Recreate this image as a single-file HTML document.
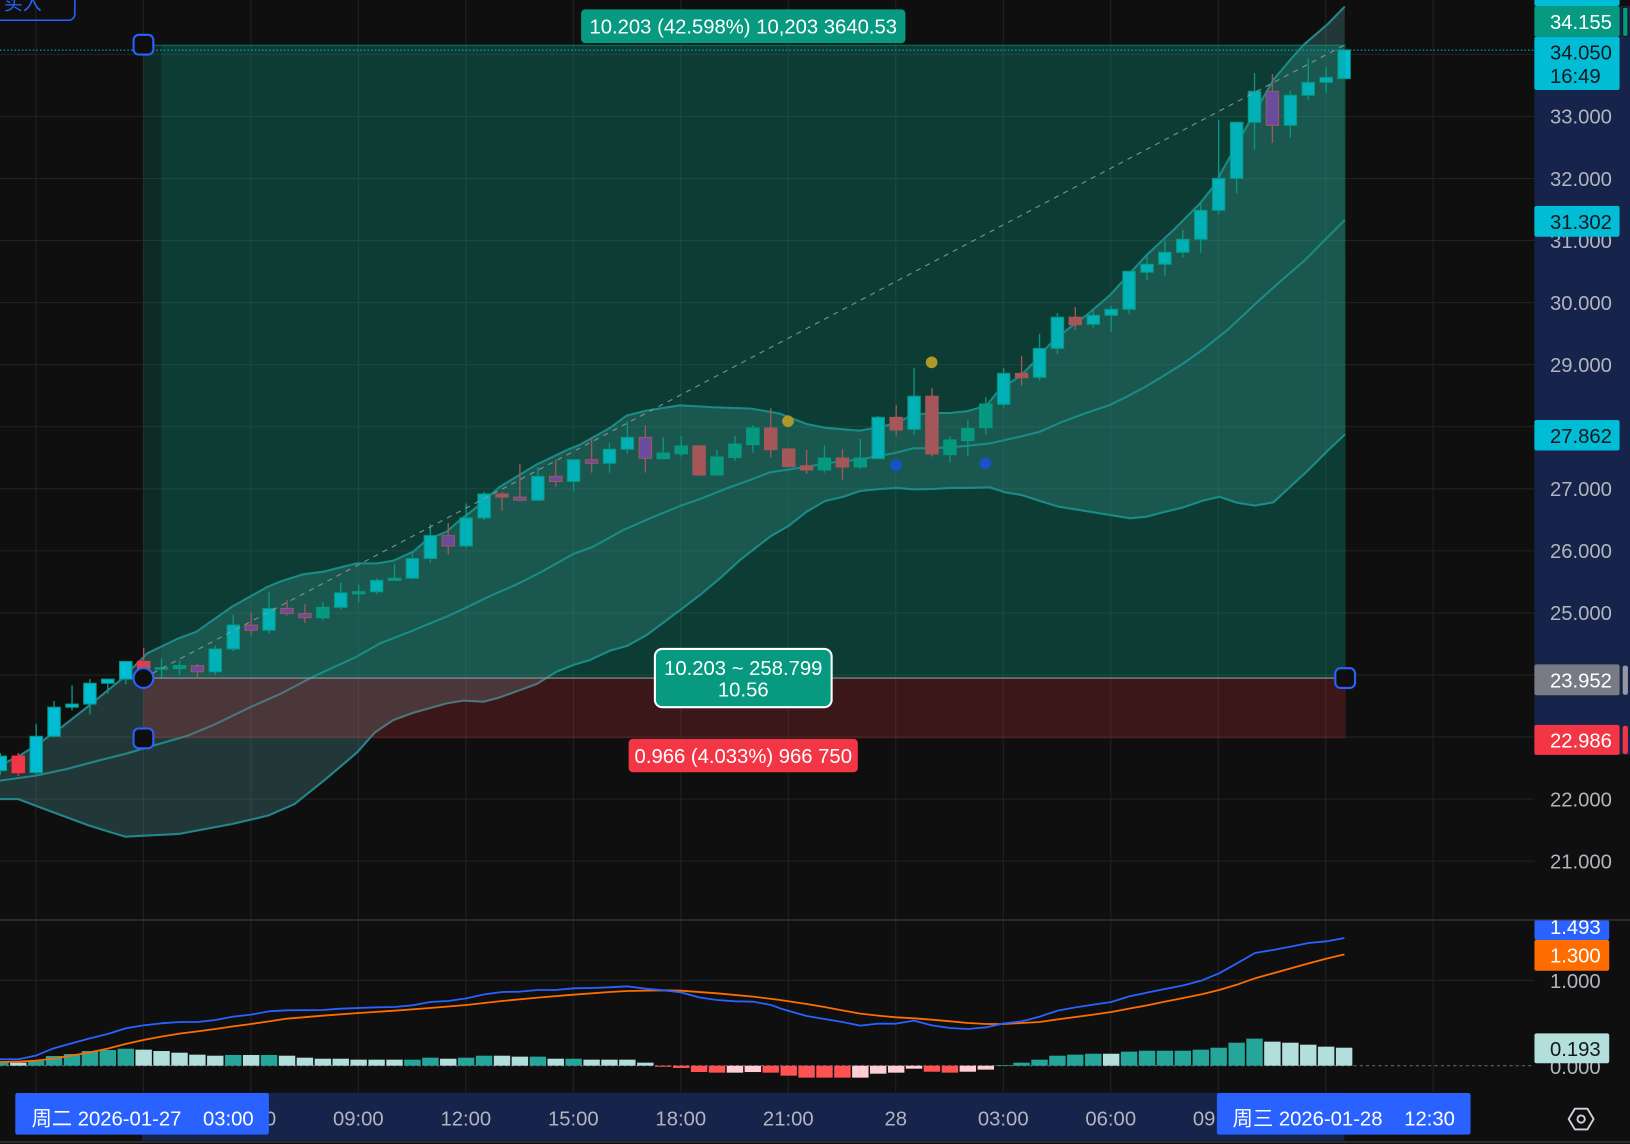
<!DOCTYPE html>
<html><head><meta charset="utf-8"><style>
html,body{margin:0;padding:0;background:#0f0f0f;overflow:hidden;width:1630px;height:1144px}
svg{display:block}
text{font-family:"Liberation Sans","Noto Sans CJK SC",sans-serif}
g.c rect{fill:#00bcd4;stroke:#089981;stroke-width:1}
g.c path{stroke:#089981}
g.p rect{fill:#9c27b0;stroke:#f23645;stroke-width:1}
g.p path{stroke:#f23645}
g.r rect{fill:#f23645;stroke:#f23645;stroke-width:1}
g.r path{stroke:#f23645}
g.t rect{fill:#089981;stroke:#089981;stroke-width:1}
g.t path{stroke:#089981}
.cd path{stroke-width:1.3;fill:none}
.hT{fill:#26a69a}.hL{fill:#b2dfdb}.hR{fill:#ff5252}.hP{fill:#ffcdd2}
.ax{fill:#b2b5be;font-size:19.5px}
.tl{fill:#b2b5be;font-size:19.5px;text-anchor:middle}
</style></head><body>
<svg width="1630" height="1144" viewBox="0 0 1568 1100" preserveAspectRatio="none" xmlns="http://www.w3.org/2000/svg">
<defs>
<clipPath id="cpMain"><rect x="0" y="0" width="1476" height="884"/></clipPath>
<clipPath id="cpMacd"><rect x="0" y="885" width="1476" height="165"/></clipPath>
<clipPath id="cpMacdAx"><rect x="1476" y="885" width="92" height="165"/></clipPath>
</defs>
<rect x="0" y="0" width="1568" height="1100" fill="#0f0f0f"/>

<!-- grid main -->
<g stroke="#232323" stroke-width="1">
<path d="M0 52.3H1476M0 112H1476M0 171.7H1476M0 231.3H1476M0 291H1476M0 350.7H1476M0 410.3H1476M0 470H1476M0 529.7H1476M0 589.4H1476M0 649H1476M0 708.7H1476M0 768.4H1476M0 828H1476"/>
<path d="M34.5 0V884M137.9 0V884M241.3 0V884M344.7 0V884M448.1 0V884M551.5 0V884M654.9 0V884M758.3 0V884M861.7 0V884M965.1 0V884M1068.5 0V884M1171.9 0V884M1275.3 0V884M1378.7 0V884"/>
<path d="M34.5 885V1050M137.9 885V1050M241.3 885V1050M344.7 885V1050M448.1 885V1050M551.5 885V1050M654.9 885V1050M758.3 885V1050M861.7 885V1050M965.1 885V1050M1068.5 885V1050M1171.9 885V1050M1275.3 885V1050M1378.7 885V1050"/>
<path d="M0 942.6H1476"/>
</g>

<g clip-path="url(#cpMain)">
<!-- Bollinger fill -->
<polygon fill="rgba(91,179,179,0.25)" points="0,736 20,726 40,713 55.8,701.9 80,683 116,653.8 141.7,628.2 171.8,613.8 189,607.4 223.3,583.3 257.7,564.1 269.4,559.3 291.8,552.2 311,549.7 343.1,541.7 362.4,541.7 378.4,539.1 397.6,530.4 410.5,519.2 429.7,511.2 442.5,500 455.2,490.4 481,468 515.4,447.1 545.4,432.7 558,427.6 586.8,411.5 602.8,399.6 622,394.8 654,389.7 686.1,391.6 723,392.9 750.2,397.7 775.9,407.7 795.1,411.5 827.1,414.1 846.4,410.6 862.4,406.7 878.4,398.7 897.6,397.1 913.7,397.1 929.7,395.5 948.9,390.1 962,374 981,362 994,349 1010,331 1026.2,317.3 1045.4,302.9 1067.9,283.7 1083.9,266 1103.1,245.2 1128.8,221.2 1154.4,195.5 1167.2,179.5 1183.3,150.6 1199.3,121.8 1224.9,76.9 1241,57.7 1253.8,43.3 1276.3,24 1293.6,6.4 1293.9,417.6 1276.3,434.3 1257,453.5 1224.9,483 1207.3,486.2 1189.7,483.3 1173,477.6 1156,481.7 1138.4,487.8 1119.1,492.6 1103.1,496.8 1087.1,498.4 1067.8,495.2 1048.6,492 1018.1,487.2 1000.5,481.7 982.9,476 966.8,473.4 952.4,468.6 929.7,469.2 913.7,469.2 897.6,470.2 878.4,470.5 862.4,469.2 846.4,470.2 827.3,472.1 811.3,477.6 793.6,481.7 776,492 758.4,505.8 740.7,516 711.9,538.5 692.6,556.1 673.4,572.1 657.4,584.3 641.4,596.2 622.1,610.6 602.9,621.2 586.8,625.6 567.6,634.6 551.5,639.4 535.5,645.8 516.3,657.7 500.2,663.5 481,670.5 465,674.7 445.7,673.7 429.7,676.3 397.6,685.3 378.4,692.3 360.7,704.2 343.6,723.4 313.5,749 283.4,773.1 257.7,784.3 223.3,792.3 171.8,801.9 120.2,804.5 85.9,793.9 51.5,781.1 17.2,768.3 0,768.3"/>
<g fill="none" stroke="#23868c" stroke-width="2" stroke-linejoin="round">
<polyline points="0,736 20,726 40,713 55.8,701.9 80,683 116,653.8 141.7,628.2 171.8,613.8 189,607.4 223.3,583.3 257.7,564.1 269.4,559.3 291.8,552.2 311,549.7 343.1,541.7 362.4,541.7 378.4,539.1 397.6,530.4 410.5,519.2 429.7,511.2 442.5,500 455.2,490.4 481,468 515.4,447.1 545.4,432.7 558,427.6 586.8,411.5 602.8,399.6 622,394.8 654,389.7 686.1,391.6 723,392.9 750.2,397.7 775.9,407.7 795.1,411.5 827.1,414.1 846.4,410.6 862.4,406.7 878.4,398.7 897.6,397.1 913.7,397.1 929.7,395.5 948.9,390.1 962,374 981,362 994,349 1010,331 1026.2,317.3 1045.4,302.9 1067.9,283.7 1083.9,266 1103.1,245.2 1128.8,221.2 1154.4,195.5 1167.2,179.5 1183.3,150.6 1199.3,121.8 1224.9,76.9 1241,57.7 1253.8,43.3 1276.3,24 1293.6,6.4"/>
<polyline points="0,750.6 34.4,745.8 64.4,739.4 94.5,731.4 120.2,725 141.7,718.6 180.4,707.4 206.1,696.8 240.5,680.1 269.4,667.3 301.4,650.6 343.1,631.4 365.6,618.6 394.4,607.4 413.7,599.4 429.7,593 449,584 471.4,573.1 497,561.9 519.5,550.6 551.5,532.7 570.8,525.6 599.6,509.6 625.3,498.4 654.2,486.5 673.4,479.8 699.1,469.6 721.5,461.5 740.5,454.2 766.2,450.3 801.4,444.6 827.1,441.7 859.2,435.9 878.4,431.1 897.6,431.1 929.7,428.8 952.4,426.3 981.2,419.9 1000.5,415.1 1019.7,406.4 1048.6,395.8 1067.8,389.4 1083.9,381.4 1103.1,371.2 1119.1,361.5 1138.4,349.4 1154.4,338.1 1180,318 1210,290 1230,272 1255.4,250 1293.6,211.5"/>
<polyline points="0,768.3 17.2,768.3 51.5,781.1 85.9,793.9 120.2,804.5 171.8,801.9 223.3,792.3 257.7,784.3 283.4,773.1 313.5,749 343.6,723.4 360.7,704.2 378.4,692.3 397.6,685.3 429.7,676.3 445.7,673.7 465,674.7 481,670.5 500.2,663.5 516.3,657.7 535.5,645.8 551.5,639.4 567.6,634.6 586.8,625.6 602.9,621.2 622.1,610.6 641.4,596.2 657.4,584.3 673.4,572.1 692.6,556.1 711.9,538.5 740.7,516 758.4,505.8 776,492 793.6,481.7 811.3,477.6 827.3,472.1 846.4,470.2 862.4,469.2 878.4,470.5 897.6,470.2 913.7,469.2 929.7,469.2 952.4,468.6 966.8,473.4 982.9,476 1000.5,481.7 1018.1,487.2 1048.6,492 1067.8,495.2 1087.1,498.4 1103.1,496.8 1119.1,492.6 1138.4,487.8 1156,481.7 1173,477.6 1189.7,483.3 1207.3,486.2 1224.9,483 1257,453.5 1276.3,434.3 1293.9,417.6"/>
</g>

<!-- candles -->
<g class="cd">
<g class="c"><path d="M0.3 724V745"/><rect x="-5.7" y="727" width="12" height="14"/></g>
<g class="r"><path d="M17.6 724V746"/><rect x="11.6" y="727" width="12" height="16"/></g>
<g class="c"><path d="M34.8 696V745"/><rect x="28.8" y="708" width="12" height="35"/></g>
<g class="c"><path d="M52 674V709"/><rect x="46" y="680" width="12" height="28"/></g>
<g class="c"><path d="M69.3 659V683"/><rect x="63.3" y="677" width="12" height="3"/></g>
<g class="c"><path d="M86.5 653V687"/><rect x="80.5" y="657" width="12" height="20"/></g>
<g class="c"><path d="M103.7 653V667"/><rect x="97.7" y="653" width="12" height="4"/></g>
<g class="c"><path d="M121 636V658"/><rect x="115" y="636" width="12" height="17"/></g>
<g class="r"><path d="M138.2 623V644"/><rect x="132.2" y="636" width="12" height="7"/></g>
<g class="t"><path d="M155.4 633V652"/><rect x="149.4" y="642" width="12" height="1.5"/></g>
<g class="t"><path d="M172.7 635V649"/><rect x="166.7" y="640" width="12" height="3"/></g>
<g class="p"><path d="M189.9 638V651"/><rect x="183.9" y="640" width="12" height="6"/></g>
<g class="c"><path d="M207.1 621V649"/><rect x="201.1" y="624" width="12" height="22"/></g>
<g class="c"><path d="M224.4 591V626"/><rect x="218.4" y="601" width="12" height="23"/></g>
<g class="p"><path d="M241.6 589V611"/><rect x="235.6" y="601" width="12" height="5"/></g>
<g class="c"><path d="M258.8 569V609"/><rect x="252.8" y="585" width="12" height="21"/></g>
<g class="p"><path d="M276.1 577V592"/><rect x="270.1" y="585" width="12" height="5"/></g>
<g class="p"><path d="M293.3 581V599"/><rect x="287.3" y="590" width="12" height="4"/></g>
<g class="t"><path d="M310.6 579V596"/><rect x="304.6" y="584" width="12" height="10"/></g>
<g class="c"><path d="M327.8 560V586"/><rect x="321.8" y="570" width="12" height="14"/></g>
<g class="t"><path d="M345 562V579"/><rect x="339" y="569" width="12" height="2"/></g>
<g class="c"><path d="M362.3 556V571"/><rect x="356.3" y="558" width="12" height="11"/></g>
<g class="t"><path d="M379.5 542V558"/><rect x="373.5" y="556" width="12" height="2"/></g>
<g class="c"><path d="M396.7 532V557"/><rect x="390.7" y="537" width="12" height="19"/></g>
<g class="c"><path d="M414 504V541"/><rect x="408" y="515" width="12" height="22"/></g>
<g class="p"><path d="M431.2 503V533"/><rect x="425.2" y="515" width="12" height="10"/></g>
<g class="c"><path d="M448.4 484V527"/><rect x="442.4" y="498" width="12" height="27"/></g>
<g class="c"><path d="M465.7 473V500"/><rect x="459.7" y="475" width="12" height="23"/></g>
<g class="r"><path d="M482.9 473V491"/><rect x="476.9" y="475" width="12" height="3"/></g>
<g class="p"><path d="M500.1 446V482"/><rect x="494.1" y="478" width="12" height="3"/></g>
<g class="c"><path d="M517.4 449V482"/><rect x="511.4" y="458" width="12" height="23"/></g>
<g class="p"><path d="M534.6 442V468"/><rect x="528.6" y="458" width="12" height="5"/></g>
<g class="c"><path d="M551.8 442V472"/><rect x="545.8" y="442" width="12" height="21"/></g>
<g class="p"><path d="M569.1 422V454.5"/><rect x="563.1" y="442" width="12" height="3.5"/></g>
<g class="c"><path d="M586.3 426V454.5"/><rect x="580.3" y="432" width="12" height="13.5"/></g>
<g class="c"><path d="M603.5 405V436"/><rect x="597.5" y="420.5" width="12" height="11.5"/></g>
<g class="p"><path d="M620.8 408.7V454.5"/><rect x="614.8" y="420.5" width="12" height="20.2"/></g>
<g class="t"><path d="M638 420.5V441.7"/><rect x="632" y="435.6" width="12" height="5.4"/></g>
<g class="t"><path d="M655.3 419.2V439"/><rect x="649.3" y="428.8" width="12" height="7.5"/></g>
<g class="r"><path d="M672.5 427.9V457.7"/><rect x="666.5" y="428.8" width="12" height="27.9"/></g>
<g class="t"><path d="M689.7 432.7V456.7"/><rect x="683.7" y="439.4" width="12" height="17.3"/></g>
<g class="t"><path d="M707 419V443"/><rect x="701" y="427" width="12" height="13"/></g>
<g class="t"><path d="M724.2 408.7V435.3"/><rect x="718.2" y="411.5" width="12" height="16.1"/></g>
<g class="r"><path d="M741.4 392.6V440"/><rect x="735.4" y="411.5" width="12" height="20.9"/></g>
<g class="r"><path d="M758.7 430.5V449"/><rect x="752.7" y="431.7" width="12" height="17"/></g>
<g class="r"><path d="M775.9 432.7V455.8"/><rect x="769.9" y="447.8" width="12" height="4.1"/></g>
<g class="t"><path d="M793.1 427.9V454.5"/><rect x="787.1" y="440.4" width="12" height="11.5"/></g>
<g class="r"><path d="M810.4 431.7V461.5"/><rect x="804.4" y="440.4" width="12" height="8.6"/></g>
<g class="t"><path d="M827.6 422V451"/><rect x="821.6" y="440.4" width="12" height="8.6"/></g>
<g class="c"><path d="M844.8 400V441"/><rect x="838.8" y="401.3" width="12" height="39.7"/></g>
<g class="r"><path d="M862.1 389.4V419.2"/><rect x="856.1" y="401.3" width="12" height="12.2"/></g>
<g class="c"><path d="M879.3 353.8V418.3"/><rect x="873.3" y="381" width="12" height="31.8"/></g>
<g class="r"><path d="M896.5 373V439"/><rect x="890.5" y="381" width="12" height="55.5"/></g>
<g class="t"><path d="M913.8 419.2V444.9"/><rect x="907.8" y="423" width="12" height="14.2"/></g>
<g class="t"><path d="M931 403.8V438.5"/><rect x="925" y="411.9" width="12" height="11.8"/></g>
<g class="t"><path d="M948.3 382V418"/><rect x="942.3" y="388.5" width="12" height="22.7"/></g>
<g class="c"><path d="M965.5 354V392"/><rect x="959.5" y="359" width="12" height="29.8"/></g>
<g class="r"><path d="M982.7 342.3V370.8"/><rect x="976.7" y="359" width="12" height="4.2"/></g>
<g class="c"><path d="M1000 321V366"/><rect x="994" y="335" width="12" height="27.8"/></g>
<g class="c"><path d="M1017.2 301V340.4"/><rect x="1011.2" y="305" width="12" height="30"/></g>
<g class="r"><path d="M1034.4 295.2V317"/><rect x="1028.4" y="305" width="12" height="7.2"/></g>
<g class="c"><path d="M1051.7 298V315.1"/><rect x="1045.7" y="303.2" width="12" height="8.6"/></g>
<g class="c"><path d="M1068.9 294.2V319"/><rect x="1062.9" y="297.4" width="12" height="5.8"/></g>
<g class="c"><path d="M1086.1 260.9V302"/><rect x="1080.1" y="260.9" width="12" height="36.5"/></g>
<g class="c"><path d="M1103.4 245.2V269.2"/><rect x="1097.4" y="254.1" width="12" height="7.7"/></g>
<g class="c"><path d="M1120.6 231.7V265.1"/><rect x="1114.6" y="242.6" width="12" height="11.5"/></g>
<g class="c"><path d="M1137.8 221V247.8"/><rect x="1131.8" y="230.1" width="12" height="12.5"/></g>
<g class="c"><path d="M1155.1 194V243"/><rect x="1149.1" y="202.2" width="12" height="27.9"/></g>
<g class="c"><path d="M1172.3 115.4V206"/><rect x="1166.3" y="171.5" width="12" height="30.7"/></g>
<g class="c"><path d="M1189.6 117.6V186.2"/><rect x="1183.6" y="117.6" width="12" height="53.9"/></g>
<g class="c"><path d="M1206.8 70.2V143.9"/><rect x="1200.8" y="87.8" width="12" height="29.8"/></g>
<g class="p"><path d="M1224 71.2V137.2"/><rect x="1218" y="87.8" width="12" height="32.7"/></g>
<g class="c"><path d="M1241.3 87.2V132.4"/><rect x="1235.3" y="91.6" width="12" height="28.9"/></g>
<g class="c"><path d="M1258.5 56.1V95.8"/><rect x="1252.5" y="79.2" width="12" height="12.4"/></g>
<g class="c"><path d="M1275.7 64.7V89.1"/><rect x="1269.7" y="74.4" width="12" height="4.8"/></g>
<g class="c"><path d="M1293 48.1V75.6"/><rect x="1287" y="48.1" width="12" height="27.5"/></g>
</g>

<!-- signal dots -->
<circle cx="758" cy="405" r="5.6" fill="#ff9800"/>
<circle cx="896.2" cy="348.4" r="5.6" fill="#ff9800"/>
<circle cx="862" cy="447.4" r="5.6" fill="#2030f0"/>
<circle cx="948" cy="445.5" r="5.6" fill="#2030f0"/>

<!-- position tool overlays -->
<rect x="137.8" y="43" width="1156.7" height="609" fill="rgba(8,153,129,0.2)"/>
<rect x="155" y="43" width="1139.5" height="609" fill="rgba(8,153,129,0.165)"/>
<rect x="137.8" y="652" width="1156.7" height="58" fill="rgba(242,54,69,0.2)"/>
<path d="M137.8 43.5H1294.5" stroke="rgba(8,153,129,0.6)" stroke-width="1"/>

<!-- current price dotted line -->
<path d="M0 48.2H1476" stroke="#00bcd4" stroke-width="1" stroke-dasharray="1.5 2"/>
<!-- entry line -->
<path d="M138 652H1294.5" stroke="#9598a1" stroke-width="1"/>
<!-- diagonal dashed -->
<path d="M138 652L1294 43" stroke="#9598a1" stroke-width="1.1" stroke-dasharray="5 5" opacity="0.85"/>

<!-- handles -->
<g fill="#0f0f0f" stroke="#2962ff" stroke-width="2">
<rect x="128.5" y="33.5" width="19" height="19" rx="5"/>
<rect x="128.5" y="700.5" width="19" height="19" rx="5"/>
<rect x="1284.5" y="642.5" width="19" height="19" rx="5"/>
<circle cx="138" cy="652" r="9.5"/>
</g>

<!-- labels -->
<rect x="559" y="9" width="312" height="32.5" rx="4" fill="#089981"/>
<text x="715" y="32" fill="#ffffff" font-size="19.5" text-anchor="middle">10.203 (42.598%) 10,203 3640.53</text>

<rect x="630" y="624" width="170" height="56" rx="7" fill="#089981" stroke="#ffffff" stroke-width="2"/>
<text x="715" y="649" fill="#ffffff" font-size="19.5" text-anchor="middle">10.203 ~ 258.799</text>
<text x="715" y="669.5" fill="#ffffff" font-size="19.5" text-anchor="middle">10.56</text>

<rect x="604.7" y="710.5" width="220.5" height="32" rx="4" fill="#f23645"/>
<text x="715" y="733.5" fill="#ffffff" font-size="19.5" text-anchor="middle">0.966 (4.033%) 966 750</text>

<!-- buy label -->
<rect x="-10" y="-12" width="82" height="31.5" rx="6" fill="none" stroke="#2962ff" stroke-width="1.5"/>
<text x="4" y="9.5" fill="#2962ff" font-size="18">买入</text>
</g>

<!-- pane separator -->
<path d="M0 884.6H1568" stroke="#333333" stroke-width="1.5"/>

<!-- MACD pane -->
<g clip-path="url(#cpMacd)">
<path d="M0 1024.7H1476" stroke="#5d606b" stroke-width="1" stroke-dasharray="3 3"/>
<g>
<rect class="hT" x="-7.6" y="1021.8" width="15.8" height="2.9"/>
<rect class="hL" x="9.7" y="1021.8" width="15.8" height="2.9"/>
<rect class="hT" x="26.9" y="1019.9" width="15.8" height="4.8"/>
<rect class="hT" x="44.1" y="1015.4" width="15.8" height="9.3"/>
<rect class="hT" x="61.4" y="1013.5" width="15.8" height="11.2"/>
<rect class="hT" x="78.6" y="1010.6" width="15.8" height="14.1"/>
<rect class="hT" x="95.8" y="1009.6" width="15.8" height="15.1"/>
<rect class="hT" x="113.1" y="1008.4" width="15.8" height="16.3"/>
<rect class="hL" x="130.3" y="1009.3" width="15.8" height="15.4"/>
<rect class="hL" x="147.5" y="1010.6" width="15.8" height="14.1"/>
<rect class="hL" x="164.8" y="1012.2" width="15.8" height="12.5"/>
<rect class="hL" x="182" y="1014.1" width="15.8" height="10.6"/>
<rect class="hL" x="199.2" y="1015.1" width="15.8" height="9.6"/>
<rect class="hT" x="216.5" y="1014.4" width="15.8" height="10.3"/>
<rect class="hL" x="233.7" y="1014.4" width="15.8" height="10.3"/>
<rect class="hT" x="250.9" y="1014.4" width="15.8" height="10.3"/>
<rect class="hL" x="268.2" y="1015.1" width="15.8" height="9.6"/>
<rect class="hL" x="285.4" y="1017" width="15.8" height="7.7"/>
<rect class="hL" x="302.7" y="1018" width="15.8" height="6.7"/>
<rect class="hL" x="319.9" y="1018" width="15.8" height="6.7"/>
<rect class="hL" x="337.1" y="1018.9" width="15.8" height="5.8"/>
<rect class="hL" x="354.4" y="1018.9" width="15.8" height="5.8"/>
<rect class="hL" x="371.6" y="1018.9" width="15.8" height="5.8"/>
<rect class="hT" x="388.8" y="1018.9" width="15.8" height="5.8"/>
<rect class="hT" x="406.1" y="1017" width="15.8" height="7.7"/>
<rect class="hL" x="423.3" y="1018" width="15.8" height="6.7"/>
<rect class="hT" x="440.5" y="1017" width="15.8" height="7.7"/>
<rect class="hT" x="457.8" y="1015.1" width="15.8" height="9.6"/>
<rect class="hL" x="475" y="1015.1" width="15.8" height="9.6"/>
<rect class="hL" x="492.2" y="1016" width="15.8" height="8.7"/>
<rect class="hT" x="509.5" y="1016" width="15.8" height="8.7"/>
<rect class="hL" x="526.7" y="1018" width="15.8" height="6.7"/>
<rect class="hT" x="543.9" y="1018" width="15.8" height="6.7"/>
<rect class="hL" x="561.2" y="1018.9" width="15.8" height="5.8"/>
<rect class="hL" x="578.4" y="1018.9" width="15.8" height="5.8"/>
<rect class="hL" x="595.6" y="1018.9" width="15.8" height="5.8"/>
<rect class="hL" x="612.9" y="1021.8" width="15.8" height="2.9"/>
<rect class="hR" x="630.1" y="1024.7" width="15.8" height="1"/>
<rect class="hR" x="647.4" y="1024.7" width="15.8" height="2.2"/>
<rect class="hR" x="664.6" y="1024.7" width="15.8" height="6.1"/>
<rect class="hR" x="681.8" y="1024.7" width="15.8" height="6.7"/>
<rect class="hP" x="699.1" y="1024.7" width="15.8" height="6.7"/>
<rect class="hP" x="716.3" y="1024.7" width="15.8" height="6.1"/>
<rect class="hR" x="733.5" y="1024.7" width="15.8" height="6.7"/>
<rect class="hR" x="750.8" y="1024.7" width="15.8" height="9.6"/>
<rect class="hR" x="768" y="1024.7" width="15.8" height="11.5"/>
<rect class="hR" x="785.2" y="1024.7" width="15.8" height="11.5"/>
<rect class="hR" x="802.5" y="1024.7" width="15.8" height="11.5"/>
<rect class="hP" x="819.7" y="1024.7" width="15.8" height="11.5"/>
<rect class="hP" x="836.9" y="1024.7" width="15.8" height="7.7"/>
<rect class="hP" x="854.2" y="1024.7" width="15.8" height="6.7"/>
<rect class="hP" x="871.4" y="1024.7" width="15.8" height="2.9"/>
<rect class="hR" x="888.6" y="1024.7" width="15.8" height="5.8"/>
<rect class="hR" x="905.9" y="1024.7" width="15.8" height="6.7"/>
<rect class="hP" x="923.1" y="1024.7" width="15.8" height="5.8"/>
<rect class="hP" x="940.4" y="1024.7" width="15.8" height="3.8"/>
<rect class="hT" x="957.6" y="1024.1" width="15.8" height="0.6"/>
<rect class="hT" x="974.8" y="1021.8" width="15.8" height="2.9"/>
<rect class="hT" x="992.1" y="1018.9" width="15.8" height="5.8"/>
<rect class="hT" x="1009.3" y="1015.1" width="15.8" height="9.6"/>
<rect class="hT" x="1026.5" y="1014.1" width="15.8" height="10.6"/>
<rect class="hT" x="1043.8" y="1013.2" width="15.8" height="11.5"/>
<rect class="hL" x="1061" y="1013.2" width="15.8" height="11.5"/>
<rect class="hT" x="1078.2" y="1011.2" width="15.8" height="13.5"/>
<rect class="hT" x="1095.5" y="1010.3" width="15.8" height="14.4"/>
<rect class="hT" x="1112.7" y="1010.3" width="15.8" height="14.4"/>
<rect class="hT" x="1129.9" y="1010.3" width="15.8" height="14.4"/>
<rect class="hT" x="1147.2" y="1009.3" width="15.8" height="15.4"/>
<rect class="hT" x="1164.4" y="1007.4" width="15.8" height="17.3"/>
<rect class="hT" x="1181.7" y="1002.6" width="15.8" height="22.1"/>
<rect class="hT" x="1198.9" y="998.7" width="15.8" height="26"/>
<rect class="hL" x="1216.1" y="1001.6" width="15.8" height="23.1"/>
<rect class="hL" x="1233.4" y="1002.6" width="15.8" height="22.1"/>
<rect class="hL" x="1250.6" y="1004.5" width="15.8" height="20.2"/>
<rect class="hL" x="1267.8" y="1006.4" width="15.8" height="18.3"/>
<rect class="hL" x="1285.1" y="1007.4" width="15.8" height="17.3"/>
</g>
<g fill="none" stroke-width="1.8" stroke-linejoin="round">
<g transform="translate(0,875) scale(0.49082,0.32051)">
<polyline vector-effect="non-scaling-stroke" stroke="#ff6d00" points="0,456 35,455 70,452 105,446 140,437 176,427 211,416 246,402 281,390 316,380 352,371 387,364 422,357 457,349 492,342 527,334 562,326 632,317 703,309 773,302 843,294 914,285 984,273 1054,263 1124,254 1195,246 1230,243 1300,241 1335,242 1405,250 1476,260 1529,270"/>
<polyline vector-effect="non-scaling-stroke" stroke="#2962ff" points="0,448 35,448 70,437 105,415 140,400 176,385 211,372 246,355 281,346 316,340 352,336 387,336 422,330 457,320 492,314 527,304 562,301 632,300 667,296 738,292 773,291 808,286 843,276 878,273 914,265 949,253 984,246 1019,245 1054,240 1089,240 1124,235 1160,234 1195,232 1230,229 1265,236 1300,241 1335,247 1370,262 1405,270 1441,274 1476,275 1511,285 1529,295"/>
</g>
<g transform="translate(750.36,875) scale(0.52149,0.32051)">
<polyline vector-effect="non-scaling-stroke" stroke="#ff6d00" points="0,270 49,282 82,291 115,301 148,311 181,317 214,322 247,325 280,329 314,334 347,339 380,342 413,342 446,339 479,336 512,328 545,321 578,314 611,306 644,296 677,286 710,275 744,264 777,253 810,240 843,224 876,205 909,190 942,175 975,160 1008,146 1041,133"/>
<polyline vector-effect="non-scaling-stroke" stroke="#2962ff" points="0,295 49,318 82,327 115,336 148,347 181,341 214,341 247,332 280,346 314,354 347,357 380,352 413,340 446,334 479,320 512,302 545,292 578,284 611,276 644,259 677,248 710,237 744,226 777,212 810,190 843,160 876,129 909,120 942,110 975,99 1008,94 1041,84"/>
</g>
</g>
</g>

<!-- price axis -->
<rect x="1476" y="5.8" width="92" height="720" fill="#16234a"/>
<g class="ax">
<text x="1491" y="119">33.000</text>
<text x="1491" y="178.7">32.000</text>
<text x="1491" y="238.3">31.000</text>
<text x="1491" y="298">30.000</text>
<text x="1491" y="357.7">29.000</text>
<text x="1491" y="417.3">28.000</text>
<text x="1491" y="477">27.000</text>
<text x="1491" y="536.7">26.000</text>
<text x="1491" y="596.4">25.000</text>
<text x="1491" y="656">24.000</text>
<text x="1491" y="715.7">23.000</text>
<text x="1491" y="775.4">22.000</text>
<text x="1491" y="835">21.000</text>
</g>
<rect x="1476" y="-20" width="82" height="25.8" rx="2" fill="#00bcd4"/>
<rect x="1476" y="5.8" width="82" height="29.5" rx="2" fill="#089981"/>
<text x="1491" y="27.8" fill="#ffffff" font-size="19.5">34.155</text>
<rect x="1476" y="35.3" width="82" height="51.2" rx="2" fill="#00bcd4"/>
<text x="1491" y="57" fill="#131722" font-size="19.5">34.050</text>
<text x="1491" y="80" fill="#131722" font-size="19.5">16:49</text>
<rect x="1476" y="198" width="82" height="29.6" rx="2" fill="#00bcd4"/>
<text x="1491" y="220" fill="#131722" font-size="19.5">31.302</text>
<rect x="1476" y="403.8" width="82" height="29.4" rx="2" fill="#00bcd4"/>
<text x="1491" y="426" fill="#131722" font-size="19.5">27.862</text>
<rect x="1476" y="638.8" width="82" height="29.7" rx="2" fill="#787b86"/>
<text x="1491" y="661" fill="#ffffff" font-size="19.5">23.952</text>
<rect x="1476" y="697" width="82" height="28.8" rx="2" fill="#f23645"/>
<text x="1491" y="718.8" fill="#ffffff" font-size="19.5">22.986</text>
<rect x="1561" y="7" width="5" height="28" rx="2" fill="#089981" stroke="#0f0f0f" stroke-width="0.8"/>
<rect x="1561" y="640" width="5" height="28" rx="2" fill="#9598a1"/>
<rect x="1561" y="698" width="5" height="27" rx="2" fill="#f23645"/>

<!-- macd axis -->
<g clip-path="url(#cpMacdAx)">
<text x="1491" y="950" class="ax">1.000</text>
<text x="1491" y="1032.5" class="ax">0.000</text>
<rect x="1476" y="884.6" width="72" height="19.2" rx="2" fill="#2962ff"/>
<text x="1491" y="898" fill="#ffffff" font-size="19.5">1.493</text>
<rect x="1476" y="903.8" width="72" height="29.6" rx="2" fill="#ff6d00"/>
<text x="1491" y="925.5" fill="#ffffff" font-size="19.5">1.300</text>
<rect x="1476" y="993.6" width="72" height="28.8" rx="2" fill="#b2dfdb"/>
<text x="1491" y="1015.2" fill="#131722" font-size="19.5">0.193</text>
</g>

<!-- time axis -->
<rect x="136.5" y="1050.6" width="1156.8" height="46.2" fill="#16234a"/>
<path d="M0 1098H1568" stroke="#2b2b2b" stroke-width="2"/>
<g class="tl">
<text x="241.3" y="1082">06:00</text>
<text x="344.7" y="1082">09:00</text>
<text x="448.1" y="1082">12:00</text>
<text x="551.5" y="1082">15:00</text>
<text x="654.9" y="1082">18:00</text>
<text x="758.3" y="1082">21:00</text>
<text x="861.7" y="1082">28</text>
<text x="965.1" y="1082">03:00</text>
<text x="1068.5" y="1082">06:00</text>
<text x="1171.9" y="1082">09:00</text>
</g>
<rect x="14.7" y="1051" width="244" height="40" rx="2" fill="#2962ff"/>
<text x="30.4" y="1082" fill="#ffffff" font-size="19.5">周二 2026-01-27</text>
<text x="244" y="1082" fill="#ffffff" font-size="19.5" text-anchor="end">03:00</text>
<rect x="1170.6" y="1051" width="244" height="40" rx="2" fill="#2962ff"/>
<text x="1185.8" y="1082" fill="#ffffff" font-size="19.5">周三 2026-01-28</text>
<text x="1399.6" y="1082" fill="#ffffff" font-size="19.5" text-anchor="end">12:30</text>

<!-- settings icon -->
<polygon points="1509,1076 1515,1066 1527,1066 1533,1076 1527,1086 1515,1086" fill="none" stroke="#d1d4dc" stroke-width="1.8" stroke-linejoin="round"/>
<circle cx="1521" cy="1076" r="3.5" fill="none" stroke="#d1d4dc" stroke-width="1.8"/>
</svg>
</body></html>
